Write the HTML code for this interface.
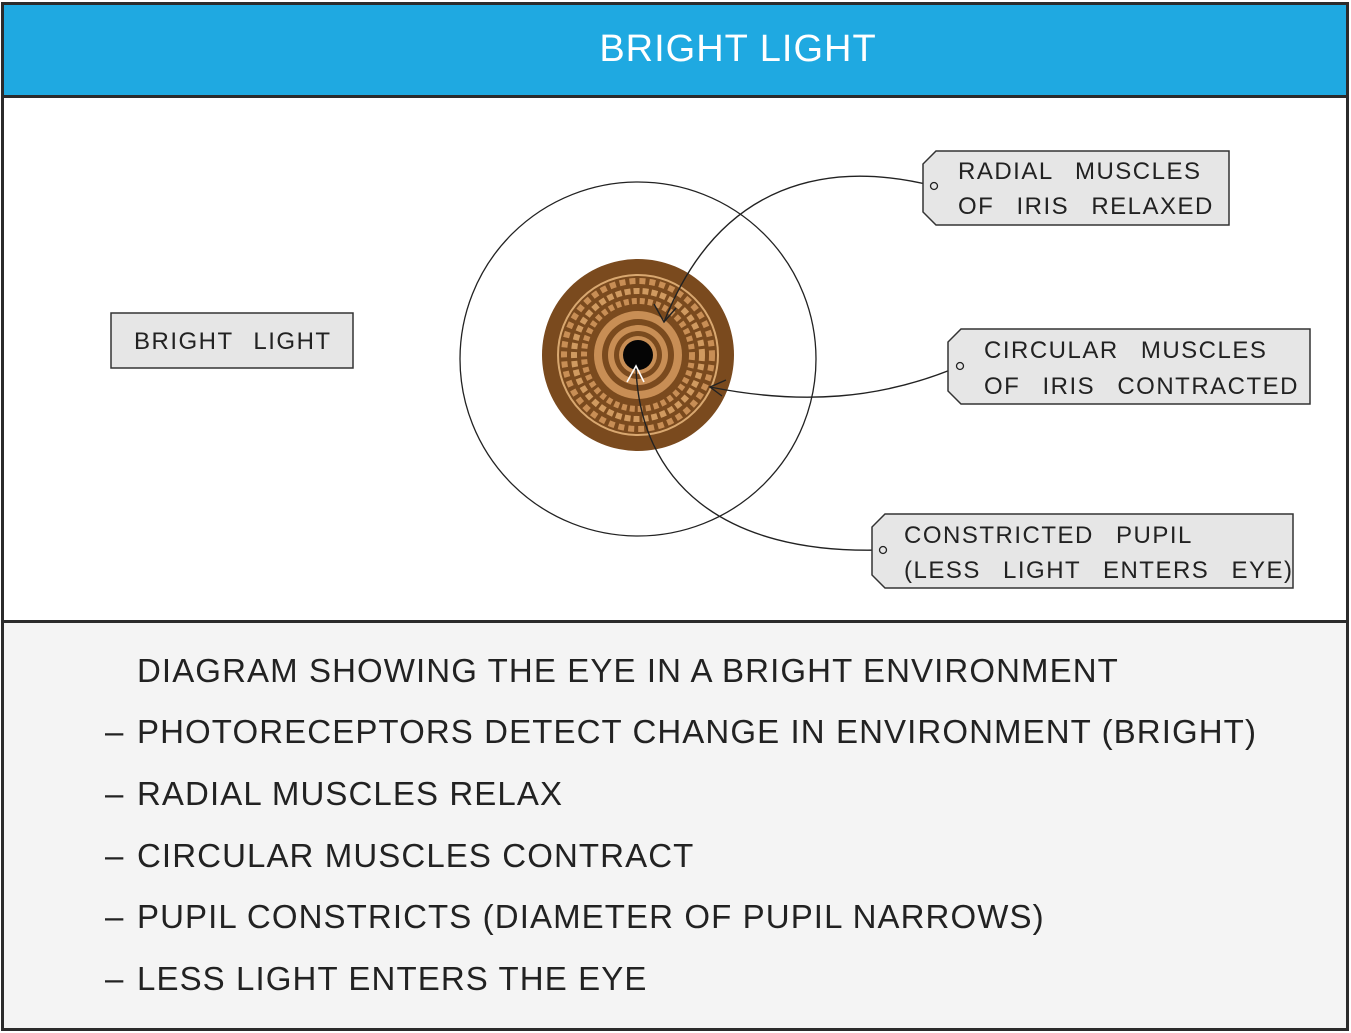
<!DOCTYPE html>
<html><head><meta charset="utf-8"><style>
html,body{margin:0;padding:0;background:#fff}
svg{display:block}
text{font-family:"Liberation Sans",sans-serif}
</style></head><body>
<svg width="1351" height="1033" viewBox="0 0 1351 1033" xmlns="http://www.w3.org/2000/svg">
<rect x="0" y="0" width="1351" height="1033" fill="#fff"/>
<rect x="2" y="3" width="1346" height="94" fill="#1fa9e1"/>
<rect x="2" y="621" width="1346" height="409" fill="#f4f4f4"/>
<rect x="2.5" y="3.5" width="1345" height="1026" fill="none" stroke="#2b2b2b" stroke-width="3"/>
<line x1="2" y1="96.5" x2="1348" y2="96.5" stroke="#2b2b2b" stroke-width="3"/>
<line x1="2" y1="621.5" x2="1348" y2="621.5" stroke="#2b2b2b" stroke-width="3"/>
<text x="738" y="61" text-anchor="middle" font-size="38" fill="#fff" letter-spacing="1">BRIGHT LIGHT</text>

<rect x="111" y="313" width="242" height="55" fill="#e6e6e6" stroke="#333" stroke-width="1.5"/>
<text x="134" y="349" font-size="24" fill="#222" letter-spacing="1.5" word-spacing="12">BRIGHT LIGHT</text>

<ellipse cx="638" cy="359" rx="178" ry="177" fill="none" stroke="#222" stroke-width="1.3"/>

<circle cx="638" cy="355" r="96" fill="#7a4a1e"/>
<circle cx="638" cy="355" r="80" fill="none" stroke="#d9a870" stroke-width="2"/>
<circle cx="638" cy="355" r="74" fill="none" stroke="#c88e55" stroke-width="6" stroke-dasharray="6 4"/>
<circle cx="638" cy="355" r="64" fill="none" stroke="#d09a60" stroke-width="6" stroke-dasharray="6 3"/>
<circle cx="638" cy="355" r="54" fill="none" stroke="#c88e55" stroke-width="6" stroke-dasharray="5 3"/>
<circle cx="638" cy="355" r="44" fill="#c88e55"/>
<circle cx="638" cy="355" r="36" fill="#7a4a1e"/>
<circle cx="638" cy="355" r="30" fill="#c88e55"/>
<circle cx="638" cy="355" r="24" fill="#7a4a1e"/>
<circle cx="638" cy="355" r="19" fill="#c88e55"/>
<circle cx="638" cy="355" r="15" fill="#050505"/>

<g fill="none" stroke="#222" stroke-width="1.4">
<path d="M934 186 C 830 160, 720 180, 664 322"/>
<path d="M654 304 L664 322 L676 308"/>
<path d="M960 366 C 880 400, 800 405, 710 387"/>
<path d="M726 380 L710 387 L722 396"/>
<path d="M883 550 C 720 555, 640 480, 636 368"/>
</g>
<path d="M627 382 L636 366 L644 382" fill="none" stroke="#fff" stroke-width="1.6"/>

<g fill="#e6e6e6" stroke="#333" stroke-width="1.5">
<polygon points="936,151 1229,151 1229,225 936,225 923,212 923,164"/>
<polygon points="961,329 1310,329 1310,404 961,404 948,391 948,342"/>
<polygon points="885,514 1293,514 1293,588 885,588 872,575 872,527"/>
</g>
<g fill="none" stroke="#222" stroke-width="1.3">
<circle cx="934" cy="186" r="3.5"/>
<circle cx="960" cy="366" r="3.5"/>
<circle cx="883" cy="550" r="3.5"/>
</g>
<g font-size="24" fill="#222" letter-spacing="1.5" word-spacing="14">
<text x="958" y="179">RADIAL MUSCLES</text>
<text x="958" y="214">OF IRIS RELAXED</text>
<text x="984" y="358">CIRCULAR MUSCLES</text>
<text x="984" y="394">OF IRIS CONTRACTED</text>
<text x="904" y="543">CONSTRICTED PUPIL</text>
<text x="904" y="578">(LESS LIGHT ENTERS EYE)</text>
</g>

<g font-size="33" fill="#222" letter-spacing="1.1">
<text x="137" y="682">DIAGRAM SHOWING THE EYE IN A BRIGHT ENVIRONMENT</text>
<text x="105" y="743">–</text><text x="137" y="743">PHOTORECEPTORS DETECT CHANGE IN ENVIRONMENT (BRIGHT)</text>
<text x="105" y="805">–</text><text x="137" y="805">RADIAL MUSCLES RELAX</text>
<text x="105" y="867">–</text><text x="137" y="867">CIRCULAR MUSCLES CONTRACT</text>
<text x="105" y="928">–</text><text x="137" y="928">PUPIL CONSTRICTS (DIAMETER OF PUPIL NARROWS)</text>
<text x="105" y="990">–</text><text x="137" y="990">LESS LIGHT ENTERS THE EYE</text>
</g>
</svg>
</body></html>
